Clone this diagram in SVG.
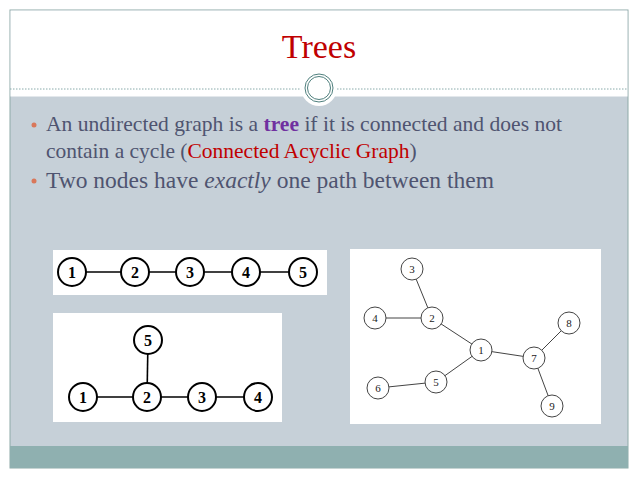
<svg xmlns="http://www.w3.org/2000/svg" width="638" height="478" viewBox="0 0 638 478">
<style>
.b{fill:#4f5470}
.e{stroke:#000;stroke-width:1.6}
.n{fill:#fff;stroke:#000;stroke-width:2}
.nl{font-weight:bold;font-size:16px;text-anchor:middle}
.s{fill:#fff;stroke:#444;stroke-width:1}
.e2{stroke:#444;stroke-width:1}
.sl{font-size:11px;text-anchor:middle;fill:#222}
</style>
<rect width="638" height="478" fill="#fff"/>
<rect x="10" y="10" width="618" height="458" fill="#c6d0d8" stroke="#8eaaa8"/>
<rect x="10.5" y="10.5" width="617" height="86" fill="#fff"/>
<line x1="10" y1="89" x2="628" y2="89" stroke="#8aa" stroke-dasharray="1.5,1.5"/>
<rect x="10" y="446" width="618" height="22" fill="#8fb0b0"/>
<circle cx="319" cy="88" r="18" fill="#fff"/>
<circle cx="319" cy="88" r="14" fill="#fff" stroke="#4f7f7d" stroke-width="1"/>
<circle cx="319" cy="88" r="11.5" fill="none" stroke="#4f7f7d" stroke-width="1"/>
<g font-family="'Liberation Serif', serif">
<text x="319" y="58" text-anchor="middle" font-size="34" fill="#c00000">Trees</text>
<circle cx="34" cy="125" r="2.5" fill="#d9775a"/>
<text class="b" x="46" y="131" font-size="21.5" textLength="516" lengthAdjust="spacingAndGlyphs">An undirected graph is a <tspan font-weight="bold" fill="#7030a0">tree</tspan> if it is connected and does not</text>
<text class="b" x="46" y="158" font-size="21.5">contain a cycle (<tspan fill="#c00000">Connected Acyclic Graph</tspan>)</text>
<circle cx="34" cy="181" r="2.5" fill="#d9775a"/>
<text class="b" x="46" y="188" font-size="23.5" textLength="448" lengthAdjust="spacingAndGlyphs">Two nodes have <tspan font-style="italic">exactly</tspan> one path between them</text>

<rect x="53" y="250" width="274" height="45" fill="#fff"/>
<rect x="53" y="313" width="229" height="109" fill="#fff"/>
<rect x="350" y="249" width="251" height="175" fill="#fff"/>

<g id="edges">
<line class="e" x1="72" y1="272" x2="303" y2="272"/>
<line class="e" x1="148" y1="340" x2="147" y2="397"/>
<line class="e" x1="83" y1="397" x2="258" y2="397"/>
<g class="e2">
<line x1="412" y1="269" x2="432" y2="318"/>
<line x1="375" y1="318" x2="432" y2="318"/>
<line x1="432" y1="318" x2="481" y2="350"/>
<line x1="481" y1="350" x2="534" y2="358"/>
<line x1="534" y1="358" x2="569" y2="323"/>
<line x1="534" y1="358" x2="552" y2="406"/>
<line x1="481" y1="350" x2="436" y2="382"/>
<line x1="436" y1="382" x2="378" y2="388"/>
</g>
</g>

<g id="a1"><circle class="n" cx="72" cy="272" r="14"/><text class="nl" x="72" y="278">1</text></g>
<g id="a2"><circle class="n" cx="135" cy="272" r="14"/><text class="nl" x="135" y="278">2</text></g>
<g id="a3"><circle class="n" cx="190" cy="272" r="14"/><text class="nl" x="190" y="278">3</text></g>
<g id="a4"><circle class="n" cx="246" cy="272" r="14"/><text class="nl" x="246" y="278">4</text></g>
<g id="a5"><circle class="n" cx="303" cy="272" r="14"/><text class="nl" x="303" y="278">5</text></g>

<g id="b5"><circle class="n" cx="148" cy="340" r="14"/><text class="nl" x="148" y="346">5</text></g>
<g id="b1"><circle class="n" cx="83" cy="397" r="14"/><text class="nl" x="83" y="403">1</text></g>
<g id="b2"><circle class="n" cx="147" cy="397" r="14"/><text class="nl" x="147" y="403">2</text></g>
<g id="b3"><circle class="n" cx="202" cy="397" r="14"/><text class="nl" x="202" y="403">3</text></g>
<g id="b4"><circle class="n" cx="258" cy="397" r="14"/><text class="nl" x="258" y="403">4</text></g>

<g id="c3"><circle class="s" cx="412" cy="269" r="11"/><text class="sl" x="412" y="273">3</text></g>
<g id="c4"><circle class="s" cx="375" cy="318" r="11"/><text class="sl" x="375" y="322">4</text></g>
<g id="c2"><circle class="s" cx="432" cy="318" r="11"/><text class="sl" x="432" y="322">2</text></g>
<g id="c1"><circle class="s" cx="481" cy="350" r="11"/><text class="sl" x="481" y="354">1</text></g>
<g id="c7"><circle class="s" cx="534" cy="358" r="11"/><text class="sl" x="534" y="362">7</text></g>
<g id="c8"><circle class="s" cx="569" cy="323" r="11"/><text class="sl" x="569" y="327">8</text></g>
<g id="c5"><circle class="s" cx="436" cy="382" r="11"/><text class="sl" x="436" y="386">5</text></g>
<g id="c6"><circle class="s" cx="378" cy="388" r="11"/><text class="sl" x="378" y="392">6</text></g>
<g id="c9"><circle class="s" cx="552" cy="406" r="11"/><text class="sl" x="552" y="410">9</text></g>
</g>
</svg>
